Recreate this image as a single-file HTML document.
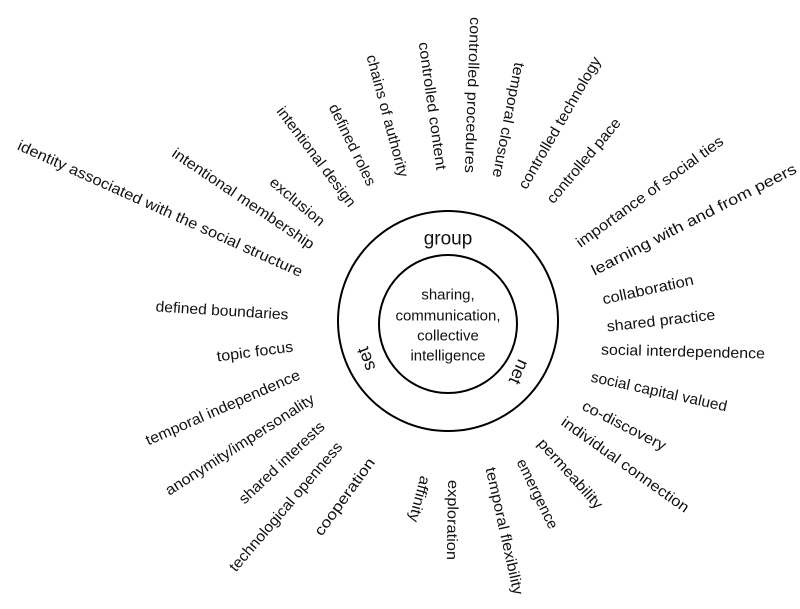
<!DOCTYPE html>
<html><head><meta charset="utf-8"><style>
html,body{margin:0;padding:0;background:#fff}
svg{display:block}
text{font-family:"Liberation Sans",sans-serif;font-size:15px;fill:#111;dominant-baseline:central;text-anchor:middle}
</style></head><body>
<svg width="800" height="609" viewBox="0 0 800 609" xmlns="http://www.w3.org/2000/svg">
<circle cx="448" cy="321" r="110" fill="none" stroke="#000" stroke-width="2"/>
<circle cx="448" cy="324" r="69" fill="none" stroke="#000" stroke-width="2"/>
<text x="448" y="239" style="font-size:19px">group</text>
<text transform="translate(366,359) rotate(-110)" style="font-size:18px">set</text>
<text transform="translate(519,372) rotate(114)" style="font-size:18px">net</text>
<text x="448" y="295">sharing,</text>
<text x="448" y="316">communication,</text>
<text x="448" y="336">collective</text>
<text x="448" y="356">intelligence</text>

<text transform="translate(472,95) rotate(92)" textLength="156" lengthAdjust="spacingAndGlyphs">controlled procedures</text>
<text transform="translate(508,120) rotate(101)" textLength="117" lengthAdjust="spacingAndGlyphs">temporal closure</text>
<text transform="translate(432,106) rotate(82)" textLength="129" lengthAdjust="spacingAndGlyphs">controlled content</text>
<text transform="translate(387,116) rotate(75)" textLength="126" lengthAdjust="spacingAndGlyphs">chains of authority</text>
<text transform="translate(352,145) rotate(64)" textLength="89" lengthAdjust="spacingAndGlyphs">defined roles</text>
<text transform="translate(316,157) rotate(53)" textLength="121" lengthAdjust="spacingAndGlyphs">intentional design</text>
<text transform="translate(560,123) rotate(-60)" textLength="150" lengthAdjust="spacingAndGlyphs">controlled technology</text>
<text transform="translate(584,161) rotate(-50)" textLength="106" lengthAdjust="spacingAndGlyphs">controlled pace</text>

<text transform="translate(160,209) rotate(24.3)" textLength="311" lengthAdjust="spacingAndGlyphs">identity associated with the social structure</text>
<text transform="translate(243,199) rotate(34)" textLength="168" lengthAdjust="spacingAndGlyphs">intentional membership</text>
<text transform="translate(297,202) rotate(40)" textLength="67" lengthAdjust="spacingAndGlyphs">exclusion</text>
<text transform="translate(222,311) rotate(3.5)" textLength="133" lengthAdjust="spacingAndGlyphs">defined boundaries</text>
<text transform="translate(255,352) rotate(-7.5)" textLength="77" lengthAdjust="spacingAndGlyphs">topic focus</text>
<text transform="translate(223,408) rotate(-23.6)" textLength="167" lengthAdjust="spacingAndGlyphs">temporal independence</text>
<text transform="translate(240,445) rotate(-32.8)" textLength="174" lengthAdjust="spacingAndGlyphs">anonymity/impersonality</text>
<text transform="translate(282,463) rotate(-43.5)" textLength="112" lengthAdjust="spacingAndGlyphs">shared interests</text>
<text transform="translate(286,507) rotate(-49.4)" textLength="165" lengthAdjust="spacingAndGlyphs">technological openness</text>
<text transform="translate(345,497) rotate(-54)" textLength="92" lengthAdjust="spacingAndGlyphs">cooperation</text>

<text transform="translate(419,499) rotate(105)" textLength="47" lengthAdjust="spacingAndGlyphs">affinity</text>
<text transform="translate(452,520) rotate(91)" textLength="80" lengthAdjust="spacingAndGlyphs">exploration</text>
<text transform="translate(504,531) rotate(77.5)" textLength="130" lengthAdjust="spacingAndGlyphs">temporal flexibility</text>
<text transform="translate(537,494) rotate(64)" textLength="76" lengthAdjust="spacingAndGlyphs">emergence</text>
<text transform="translate(570,474) rotate(48)" textLength="89" lengthAdjust="spacingAndGlyphs">permeability</text>
<text transform="translate(625,465) rotate(35.5)" textLength="153" lengthAdjust="spacingAndGlyphs">individual connection</text>
<text transform="translate(624,426) rotate(27)" textLength="92" lengthAdjust="spacingAndGlyphs">co-discovery</text>
<text transform="translate(659,392) rotate(12.4)" textLength="139" lengthAdjust="spacingAndGlyphs">social capital valued</text>
<text transform="translate(683,352) rotate(1.4)" textLength="164" lengthAdjust="spacingAndGlyphs">social interdependence</text>
<text transform="translate(661,321) rotate(-6.3)" textLength="109" lengthAdjust="spacingAndGlyphs">shared practice</text>
<text transform="translate(648,290) rotate(-12.4)" textLength="93" lengthAdjust="spacingAndGlyphs">collaboration</text>
<text transform="translate(694,220) rotate(-27)" textLength="228" lengthAdjust="spacingAndGlyphs">learning with and from peers</text>
<text transform="translate(650,192) rotate(-36)" textLength="178" lengthAdjust="spacingAndGlyphs">importance of social ties</text>
</svg>
</body></html>
